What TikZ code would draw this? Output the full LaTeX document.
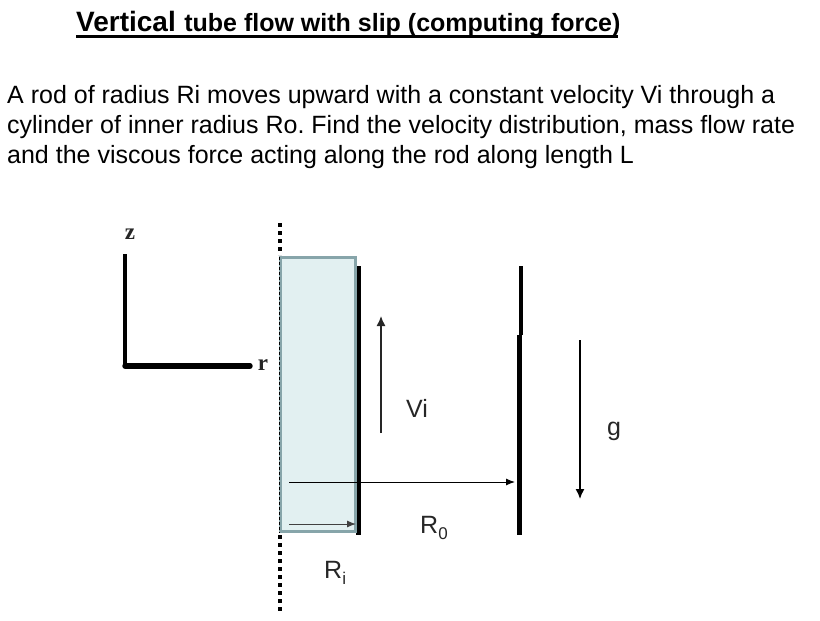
\documentclass[tikz,border=0pt]{standalone}
\usepackage{fontspec}
\setmainfont{Liberation Sans}
\newfontfamily\serifface{Liberation Serif}
\usetikzlibrary{arrows.meta}
\frenchspacing
\tikzset{
  x=1pt,y=-1pt,
  bar/.style={line width=4.6pt,black},
  thinarrow/.style={line width=1.4pt,-{Latex[length=10pt,width=9pt]}},
  finearrow/.style={line width=1pt,-{Latex[length=9pt,width=7pt]}},
  body/.style={anchor=base west,inner sep=0pt,font=\fontsize{25}{30}\selectfont},
  lab/.style={inner sep=0pt,font=\fontsize{25}{30}\selectfont,text=black!85},
  axis/.style={inner sep=0pt,font=\serifface\bfseries\fontsize{23}{24}\selectfont,text=black!85}
}
\begin{document}
\begin{tikzpicture}
\useasboundingbox (0,0) rectangle (820,621);
\fill[white] (0,0) rectangle (820,621);
% title
\node[anchor=base west,inner sep=0pt,font=\bfseries] (title) at (76,31)
  {{\fontsize{28}{30}\selectfont Vertical}\hspace{8.5pt}{\fontsize{25}{30}\selectfont tube flow with slip (computing force)}};
\coordinate (ula) at (76,36.5);
\coordinate (ulb) at (618,36.5);
\draw[line width=2.4pt] (ula) -- (ulb);
% body
\node[body] (l1) at (7,103) {A rod of radius Ri moves upward with a constant velocity Vi through a};
\node[body] (l2) at (7,133) {cylinder of inner radius Ro. Find the velocity distribution, mass flow rate};
\node[body] (l3) at (7,163) {and the viscous force acting along the rod along length L};
% axes
\coordinate (o) at (125,366);
\coordinate (zt) at (125,254);
\coordinate (rt) at (250,366);
\draw[line width=4.2pt] (zt) -- (o);
\draw[line width=5.4pt,line cap=round] (o) -- (rt);
\node[axis] (zl) at (130,234) {z};
\node[axis] (rl) at (263,365) {r};
% centre line
\coordinate (ca) at (280,223);
\coordinate (cb) at (280,612);
\draw[line width=3.8pt,dash pattern=on 4pt off 4pt] (ca) -- (280,255);
\draw[line width=3.8pt,dash pattern=on 4pt off 4pt] (280,535) -- (cb);
% rod
\draw[bar] (358.5,266) -- (358.5,535);
\fill[fill={rgb,255:red,226;green,240;blue,241},draw={rgb,255:red,135;green,165;blue,170},line width=3pt]
  (280.5,257.5) rectangle (355.5,531.5);
\draw[line width=1pt,dash pattern=on 3pt off 2pt] (279,257) -- (279,533);
% outer wall
\draw[bar] (521,266) -- (521,335);
\draw[bar] (519.5,335) -- (519.5,535);
% arrows
\coordinate (via) at (381,433);
\coordinate (vib) at (381,316);
\draw[thinarrow,black!85] (via) -- (vib);
\coordinate (ga) at (580,340);
\coordinate (gb) at (580,499);
\draw[thinarrow] (ga) -- (gb);
\coordinate (roa) at (289,482);
\coordinate (rob) at (515,482);
\draw[finearrow] (roa) -- (rob);
\coordinate (ria) at (289,524);
\coordinate (rib) at (356,524);
\draw[finearrow,black!75] (ria) -- (rib);
% labels
\node[lab] (vi) at (417,408) {Vi};
\node[lab] (g) at (614,431) {g};
\node[lab,anchor=base west] (r0) at (420,533) {R\raisebox{-6pt}{\fontsize{17}{17}\selectfont 0}};
\node[lab,anchor=base west] (ri) at (324,578) {R\raisebox{-6pt}{\fontsize{17}{17}\selectfont i}};
\end{tikzpicture}
\end{document}
